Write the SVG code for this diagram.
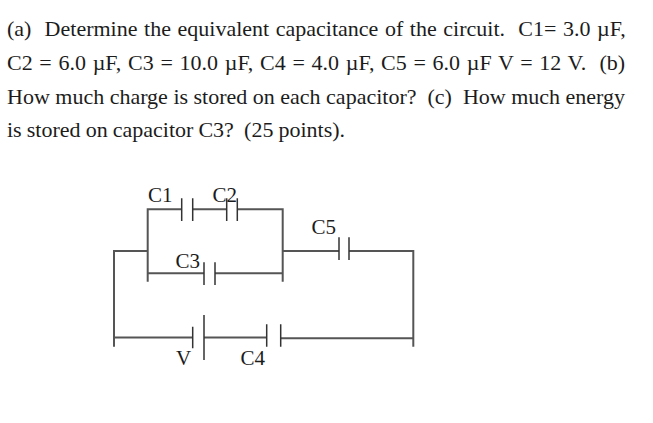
<svg xmlns="http://www.w3.org/2000/svg" width="653" height="423" viewBox="0 0 653 423">
<style>
text{font-family:"Liberation Serif","Times New Roman",serif;fill:#1c1c1c}
.t{font-size:22px;white-space:pre}
.l{font-size:21px}
.w{fill:none;stroke:#555;stroke-width:2}
.p{fill:none;stroke:#333;stroke-width:1.5}
</style>
<rect width="653" height="423" fill="#fff"/>
<g id="question">
<text class="t" x="7" y="36" word-spacing="1.1">(a)  Determine the equivalent capacitance of the circuit.  C1= 3.0 µF,</text>
<text class="t" x="7" y="70" word-spacing="1.2">C2 = 6.0 µF, C3 = 10.0 µF, C4 = 4.0 µF, C5 = 6.0 µF V = 12 V.  (b)</text>
<text class="t" x="7" y="104">How much charge is stored on each capacitor?  (c)  How much energy</text>
<text class="t" x="7" y="137" word-spacing="-0.4">is stored on capacitor C3?  (25 points).</text>
</g>
<g id="connectors">
<path class="w" d="M181.7 209.3H147.7V281.7M192.7 209.3H226.7M237.3 209.3H282.7V281.7"/>
<path class="w" d="M147.7 273.3H204M215 273.3H282.7"/>
<path class="w" d="M147.7 251H114V346.7"/>
<path class="w" d="M282.7 251H339M349 251H413.3V346.7"/>
<path class="w" d="M114 337.5H192.7M204 337.5H266.7M280.7 338.3H413.3"/>
</g>
<g id="C1"><path class="p" d="M181.7 198.3V221M192.7 198.3V221"/><text class="l" x="148" y="202">C1</text></g>
<g id="C2"><path class="p" d="M226.7 198.3V221M237.3 198.3V221"/><text class="l" x="212.5" y="202">C2</text></g>
<g id="C3"><path class="p" d="M204 262.3V285M215 262.3V285"/><text class="l" x="175.5" y="268">C3</text></g>
<g id="C5"><path class="p" d="M339 237.3V260M349 237.3V260"/><text class="l" x="311.5" y="234">C5</text></g>
<g id="V"><path class="p" d="M192.7 326.7V348.3M204 315V360"/><text class="l" x="176" y="365">V</text></g>
<g id="C4"><path class="p" d="M266.7 324.3V346.7M280.7 324.3V346.7"/><text class="l" x="240.5" y="365">C4</text></g>
</svg>
